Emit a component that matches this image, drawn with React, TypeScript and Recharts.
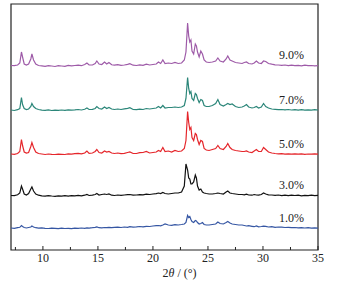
import { LineChart, Line, XAxis, YAxis, ReferenceDot, ReferenceArea, Label } from 'recharts';

// 2θ grid (deg), denser around the main reflections
const twoTheta = [
  7.1, 7.4, 7.7, 7.9, 8.05, 8.15, 8.3, 8.5, 8.7, 8.9,
  9.0, 9.15, 9.35, 9.6, 9.9, 10.2, 10.5, 10.8, 11.1, 11.4,
  11.7, 12.0, 12.3, 12.6, 12.9, 13.2, 13.5, 13.8, 14.0, 14.2,
  14.5, 14.75, 14.9, 15.1, 15.35, 15.6, 15.8, 16.0, 16.25, 16.5,
  16.8, 17.1, 17.4, 17.7, 17.9, 18.2, 18.5, 18.8, 19.1, 19.4,
  19.7, 20.0, 20.3, 20.5, 20.7, 20.9, 21.1, 21.4, 21.7, 22.0,
  22.3, 22.6, 22.85, 23.0, 23.15, 23.25, 23.35, 23.45, 23.55, 23.7,
  23.85, 23.95, 24.05, 24.2, 24.35, 24.5, 24.65, 24.85, 25.1, 25.4,
  25.7, 25.9, 26.1, 26.4, 26.65, 26.8, 27.0, 27.2, 27.5, 27.8,
  28.1, 28.3, 28.5, 28.7, 29.0, 29.2, 29.4, 29.6, 29.85, 30.05,
  30.25, 30.5, 30.8, 31.1, 31.4, 31.7, 32.0, 32.3, 32.6, 32.9,
  33.2, 33.5, 33.8, 34.1, 34.4, 34.7, 35.0,
];

// intensities (a.u.) above each pattern's own baseline
const int10 = [
  0.5, 0.2, 0.8, 1.2, 3, 2, 1, 0.5, 1, 1.5,
  2.5, 1.5, 0.8, 0.3, 0.6, 0.2, 0, 0.4, 0.1, -0.2,
  0.3, 0, 0.2, -0.2, 0.4, 0.1, 0.5, 0.2, 0.6, 0.4,
  0.8, 1.2, 1.6, 0.8, 0.6, 1, 0.8, 1.2, 0.9, 1.1,
  1.3, 1, 1.5, 1.2, 1.8, 1.4, 1.6, 2, 1.7, 2.2,
  2, 2.5, 2.8, 3, 2.6, 3.5, 4.5, 3.5, 3.2, 3.8,
  3.5, 4, 4.5, 6, 13, 11, 12, 9, 7, 6,
  8, 7.5, 6, 4.5, 5, 6, 4, 3.5, 3.5, 4,
  4.5, 6.5, 5, 4.5, 6, 7, 5.5, 4.5, 4, 3.5,
  3.5, 3, 2.5, 2.8, 2.2, 1.8, 2.5, 1.6, 2, 2.4,
  2.2, 1.5, 1.8, 1.2, 1.5, 1.3, 1, 1.2, 0.8, 1,
  0.7, 0.9, 0.5, 0.8, 0.4, 0.6, 0.3,
];

const int30 = [
  0.5, 0.3, 1.2, 3, 10, 7, 2, 1, 2.5, 7,
  9, 5, 2, 0.8, 0.2, -0.2, 0.4, 0, -0.3, 0.2,
  -0.2, 0.3, -0.1, 0.4, 0.1, 0.6, 0.2, 0.8, 1.5, 0.5,
  0.8, 1.5, 2.5, 1, 1.5, 2, 1.5, 2, 0.8, 0.5,
  1, 0.6, 1, 1.3, 1.5, 0.8, 1, 1.4, 1.2, 1.8,
  1.5, 2, 2.4, 3, 2.5, 3.5, 2.5, 2, 2.5, 3,
  3, 4, 10, 32, 26, 18, 17, 12, 12, 14,
  21, 18, 10, 6, 7, 4, 3, 2.5, 2, 2,
  2.5, 3, 2.5, 2, 4, 5, 3, 2.5, 2, 1.5,
  1.5, 1.2, 1.8, 1, 0.8, 1.5, 1, 0.8, 1.5, 3,
  2, 1.2, 1, 0.6, 1, 0.4, 0.8, 0.3, 0.9, 0.5,
  0.8, 0.2, 0.7, 0.4, 0.9, 0.3, 0.6,
];

const int50 = [
  0.5, 0.2, 1, 3, 15, 9, 2.5, 1.5, 2, 8,
  12, 7, 2.5, 1, 0.5, 0, 0.5, 0.2, 0, 0.4,
  0.2, 0, 0.6, 0.3, 0.8, 1.2, 0.6, 1.5, 3.5, 1.2,
  1.5, 3, 5, 2, 1.5, 3.5, 2.5, 3, 1.5, 1,
  1.5, 0.8, 1.2, 2, 2.5, 1, 1, 1.8, 2, 3,
  1.5, 2, 2.5, 4, 3, 7, 3, 3.5, 2.5, 4,
  3, 3.5, 6, 14, 43, 32, 25, 27, 17, 14,
  21, 20, 15, 10, 14, 13, 6, 4.5, 4, 5,
  6, 9, 6, 5, 8, 11, 7, 5, 4, 3.5,
  3, 3, 3.5, 2.5, 2, 3.5, 5, 3, 3, 7,
  5, 2.5, 1.5, 1, 0.6, 0.8, 0.4, 0.7, 0.3, 0.6,
  0.3, 0.6, 0.2, 0.5, 0.3, 0.6, 0.4,
];

const int70 = [
  0.5, 0, 0.8, 2, 13, 6, 2, 1, 1.5, 4,
  7, 4, 2, 1, 0.4, 0.2, 0.6, 0, 0.4, 0.1,
  0.5, 0.2, 0.7, 0.3, 0.6, 1, 0.5, 1.2, 2.5, 1,
  1.2, 2, 4, 2, 1.5, 3.5, 2, 3, 1.5, 1,
  1.5, 1, 1.6, 2.2, 2.8, 1, 0.8, 1.4, 1, 2,
  1.5, 2, 2.5, 4, 2.5, 5, 2.5, 3, 3, 3.5,
  3, 3.5, 5, 12, 33, 22, 17, 19, 12, 10,
  17, 16, 12, 8, 11, 10, 5, 4, 4, 5,
  7, 11, 6, 4.5, 6, 7, 6, 6.5, 4, 3,
  3.5, 4.5, 6, 3.5, 2.5, 3, 4, 2.5, 3.5, 7,
  4, 2.5, 1.5, 1.2, 0.8, 1, 0.6, 1, 0.5, 0.8,
  0.4, 0.9, 0.3, 0.7, 0.4, 0.8, 0.5,
];

const int90 = [
  0.5, 0.3, 1, 3, 14, 9, 2, 1, 2, 7,
  12, 6, 2, 0.5, 0.2, -0.3, 0.4, 0, -0.5, 0.3,
  0, -0.4, 0.6, 0.2, 0.5, 0.8, 0.3, 1.5, 3, 1,
  1, 2.5, 5, 2, 1.5, 4, 2, 3.5, 1.2, 0.8,
  1.4, 0.6, 1, 1.6, 2.4, 0.8, 0.5, 1.2, 0.7, 1.8,
  1, 1.5, 2, 4, 2.5, 6, 2.5, 3, 2.5, 3.5,
  2.5, 3, 6, 14, 43, 30, 24, 26, 15, 12,
  22, 20, 14, 9, 15, 12, 6, 4, 3.5, 4,
  5, 8, 5, 4, 7, 10, 6, 5, 3.5, 3,
  2.5, 3.5, 4, 2.5, 2, 3, 5, 3, 2.5, 5,
  4.5, 2.5, 1.8, 1.2, 1, 0.6, 1, 0.3, 0.8, 0.4,
  0.6, 0.2, 0.8, 0.3, 0.5, 0.2, 0.4,
];

const loadings = ['1.0%', '3.0%', '5.0%', '7.0%', '9.0%'];
const intensities = [int10, int30, int50, int70, int90];
const offsets = [21.5, 54, 95.5, 139.5, 184];
const colors = ['#3556a3', '#111111', '#e5262b', '#2b8679', '#9e5ba8'];

const majorTicks = [10, 15, 20, 25, 30, 35];
const allTicks = [7.5, 10, 12.5, 15, 17.5, 20, 22.5, 25, 27.5, 30, 32.5, 35];

const data = twoTheta.map((t, i) => {
  const row: Record<string, number> = { t };
  intensities.forEach((arr, k) => {
    row[`s${k}`] = arr[i] + offsets[k];
  });
  return row;
});

const FONT = 'Liberation Serif';

const BottomTick = (props: any) => {
  const { x, y, payload } = props;
  const major = majorTicks.includes(payload.value);
  return (
    <g>
      <line x1={x} x2={x} y1={250} y2={250 - (major ? 4 : 3)} stroke="#222" strokeWidth={1} />
      {major && (
        <text x={x} y={y + 12} textAnchor="middle" fontSize={12} fontFamily={FONT} fill="#222">
          {payload.value}
        </text>
      )}
    </g>
  );
};

const AxisTitle = (props: any) => {
  const { viewBox } = props;
  const cx = viewBox.x + viewBox.width / 2 + 15;
  return (
    <text x={cx} y={viewBox.y + 27} textAnchor="middle" fontSize={12} fontFamily={FONT} fill="#222">
      2<tspan fontStyle="italic">θ</tspan> / (°)
    </text>
  );
};

export default function App() {
  return (
    <div style={{ position: 'absolute', left: 0, top: 0, width: 347, height: 282, background: '#fff' }}>
      <LineChart width={347} height={282} data={data} margin={{ top: 4, right: 29, left: 11, bottom: 2 }}>
        <XAxis
          dataKey="t"
          type="number"
          domain={[7.1, 35]}
          allowDataOverflow
          ticks={allTicks}
          interval={0}
          tickSize={0}
          tickMargin={0}
          tick={<BottomTick />}
          tickLine={false}
          height={30}
          axisLine={false}
        >
          <Label content={<AxisTitle />} />
        </XAxis>
        <YAxis yAxisId="left" type="number" domain={[0, 246]} allowDataOverflow hide />
        <ReferenceArea
          yAxisId="left"
          x1={7.1}
          x2={35}
          y1={0}
          y2={246}
          fill="none"
          fillOpacity={0}
          stroke="#222"
          strokeWidth={1.2}
          ifOverflow="visible"
        />
        {loadings.map((name, k) => (
          <Line
            key={name}
            yAxisId="left"
            dataKey={`s${k}`}
            name={name}
            type="linear"
            stroke={colors[k]}
            strokeWidth={1.2}
            dot={false}
            isAnimationActive={false}
          />
        ))}
        {loadings.map((name, k) => (
          <ReferenceDot
            key={`lab-${name}`}
            yAxisId="left"
            x={32.6}
            y={offsets[k] + 11}
            r={0}
            stroke="none"
            fill="none"
            label={{ value: name, position: 'center', fontSize: 12, fontFamily: FONT, fill: '#222' }}
          />
        ))}
      </LineChart>
    </div>
  );
}
